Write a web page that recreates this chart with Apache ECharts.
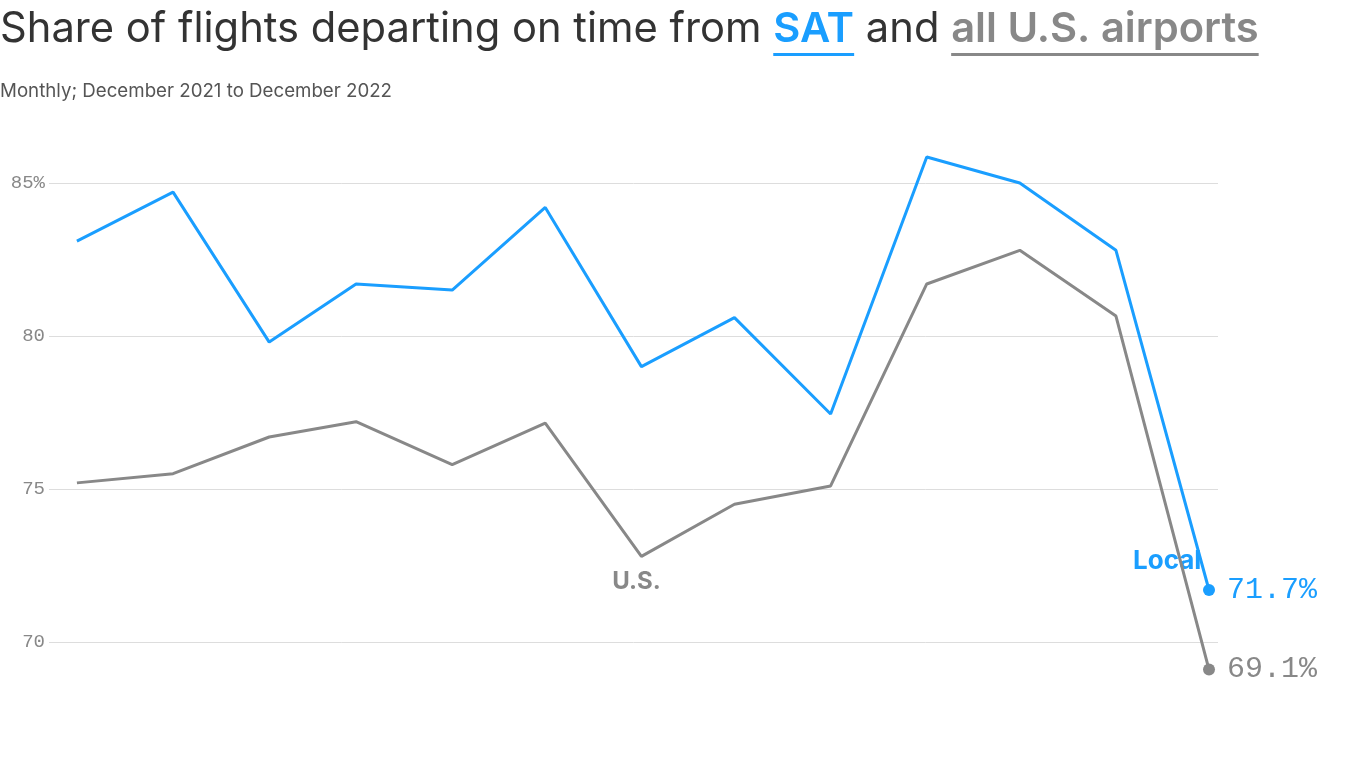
<!DOCTYPE html>
<html>
<head>
<meta charset="utf-8">
<script src="https://cdn.jsdelivr.net/npm/echarts@6/dist/echarts.min.js"></script>
<style>
	html, body { margin: 0; padding: 0; background: #fff; }
	#chart { width: 1366px; height: 768px; }
</style>
</head>
<body>
<div id="chart"></div>
<script>
// Monthly, Dec 2021 .. Dec 2022 (first of each month)
const months = ['2021-12-01', '2022-01-01', '2022-02-01', '2022-03-01', '2022-04-01', '2022-05-01', '2022-06-01',
	'2022-07-01', '2022-08-01', '2022-09-01', '2022-10-01', '2022-11-01', '2022-12-01']
const satValues = [83.1, 84.7, 79.8, 81.7, 81.5, 84.2, 79.0, 80.6, 77.45, 85.85, 85.0, 82.8, 71.7]
const usValues = [75.2, 75.5, 76.7, 77.2, 75.8, 77.15, 72.8, 74.5, 75.1, 81.7, 82.8, 80.65, 69.1]
const yTicks = [70, 75, 80, 85]

const BLUE = '#1a9eff'
const GRAY = '#888888'
const MONO = '"Liberation Mono", "DejaVu Sans Mono", monospace'
const SANS = 'Inter, "Noto Sans", sans-serif'
const TITLE_SIZE = 41.7

const chart = echarts.init(document.getElementById('chart'))

const toTime = (s) => new Date(s + 'T00:00:00Z').getTime()
const DAY = 86400000

// build [date, value] pairs, last one gets the dot + value label
const buildData = (values, color) => values.map((v, i) => {
	const item = { value: [toTime(months[i]), v] }
	if (i === values.length - 1) {
		item.symbol = 'circle'
		item.symbolSize = 12
		item.itemStyle = { color: color }
		item.label = {
			show: true,
			position: 'right',
			distance: 12,
			formatter: (p) => p.value[1].toFixed(1) + '%',
			fontFamily: MONO,
			fontSize: 30,
			color: color
		}
	}
	return item
})

const satData = buildData(satValues, BLUE)
const usData = buildData(usValues, GRAY)

// "U.S." tag under the June low point
usData[6].symbol = 'circle'
usData[6].symbolSize = 0
usData[6].label = {
	show: true,
	position: 'bottom',
	distance: 13,
	offset: [-5, 0],
	formatter: 'U.S.',
	fontFamily: SANS,
	fontWeight: 'bold',
	fontSize: 24,
	color: GRAY
}

// underline positions measured from the title text itself
const ctx = document.createElement('canvas').getContext('2d')
const measure = (txt, weight) => {
	ctx.font = `${weight} ${TITLE_SIZE}px ${SANS}`
	return ctx.measureText(txt).width
}
const titleParts = ['Share of flights departing on time from ', 'SAT', ' and ', 'all U.S. airports']
const satX = measure(titleParts[0], 'normal')
const satW = measure(titleParts[1], 600)
const usX = satX + satW + measure(titleParts[2], 'normal')
const usW = measure(titleParts[3], 600)

const option = {
	animation: false,
	title: [
		{
			left: 0,
			top: 8,
			padding: 0,
			text: `{a|${titleParts[0]}}{sat|${titleParts[1]}}{a|${titleParts[2]}}{us|${titleParts[3]}}`,
			textStyle: {
				rich: {
					a: { fontFamily: SANS, fontSize: TITLE_SIZE, color: '#333333', fontWeight: 'normal' },
					sat: { fontFamily: SANS, fontSize: TITLE_SIZE, color: BLUE, fontWeight: 600 },
					us: { fontFamily: SANS, fontSize: TITLE_SIZE, color: GRAY, fontWeight: 600 }
				}
			}
		},
		{
			left: 0,
			top: 82,
			padding: 0,
			text: 'Monthly; December 2021 to December 2022',
			textStyle: { fontFamily: SANS, fontSize: 18.7, fontWeight: 'normal', color: '#555555' }
		}
	],
	graphic: [
		{ type: 'rect', shape: { x: satX, y: 53, width: satW, height: 3 }, style: { fill: BLUE } },
		{ type: 'rect', shape: { x: usX, y: 53, width: usW, height: 3 }, style: { fill: GRAY } },
		{
			type: 'text', left: 1133, top: 548,
			style: { text: 'Local', fontFamily: SANS, fontWeight: 'bold', fontSize: 26, fill: BLUE }
		}
	],
	grid: {
		left: 49,
		right: 148,
		top: 183,
		bottom: 126
	},
	xAxis: {
		type: 'time',
		min: toTime(months[0]) - 9 * DAY,
		max: toTime(months[12]) + 2.9 * DAY,
		show: false
	},
	yAxis: {
		type: 'value',
		min: yTicks[0],
		max: yTicks[yTicks.length - 1],
		interval: 5,
		axisLine: { show: false },
		axisTick: { show: false },
		axisLabel: {
			margin: 4,
			fontFamily: MONO,
			fontSize: 19,
			color: GRAY,
			formatter: (v) => v === 85 ? '85%' : String(v)
		},
		splitLine: { lineStyle: { color: '#dddddd', width: 1 } }
	},
	series: [
		{
			name: 'SAT',
			type: 'line',
			data: satData,
			clip: false,
			symbol: 'none',
			lineStyle: { color: BLUE, width: 3 },
			itemStyle: { color: BLUE },
			z: 3
		},
		{
			name: 'U.S.',
			type: 'line',
			data: usData,
			clip: false,
			symbol: 'none',
			lineStyle: { color: GRAY, width: 3 },
			itemStyle: { color: GRAY },
			z: 2
		}
	]
}

chart.setOption(option)
</script>
</body>
</html>
